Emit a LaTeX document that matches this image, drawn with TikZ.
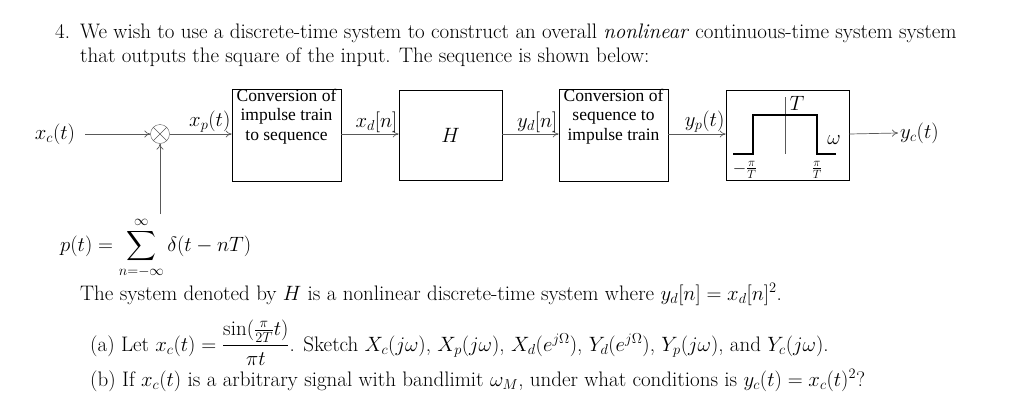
\documentclass[tikz,border=0pt]{standalone}
\usepackage{fontspec}
\usepackage{amsmath}
\newfontfamily\boxfont{Liberation Serif}
\usetikzlibrary{arrows.meta}
\begin{document}
\begin{tikzpicture}[x=1pt,y=-1pt,
  txt/.style={anchor=base west,inner sep=0pt,font=\fontsize{21}{24}\selectfont},
  blk/.style={draw,line width=0.6pt,minimum width=109pt,minimum height=90pt,align=center,inner sep=0pt,font=\boxfont\fontsize{17.5}{19.5}\selectfont},
  sig/.style={gray!70!black,line width=0.7pt,-{To[length=6pt,width=7pt]}},
  lab/.style={black,inner sep=1pt,anchor=south east,font=\fontsize{20}{22}\selectfont}]
\useasboundingbox (0,0) rectangle (1024,410);
\node[txt] (n4) at (55,38) {4.};
\node[txt] (l1) at (80,38) {We wish to use a discrete-time system to construct an overall \emph{nonlinear} continuous-time system system};
\node[txt] (l2) at (80,62) {that outputs the square of the input. The sequence is shown below:};
% blocks
\node[blk] (b1) at (286.5,135) {Conversion of\\impulse train\\to sequence\\[1.2em]};
\node[blk,minimum width=103pt] (b2) at (450.5,135) {\fontsize{20}{22}\selectfont$H$};
\node[blk] (b3) at (613.5,135) {Conversion of\\sequence to\\impulse train\\[1.2em]};
\node[blk,minimum width=123pt] (b4) at (787.5,135) {};
\node[draw,circle,minimum size=19pt,inner sep=0pt,gray!70!black] (m) at (160,134) {};
\draw[gray!70!black] (m.north west) -- (m.south east) (m.north east) -- (m.south west);
\node[inner sep=2pt,font=\fontsize{20}{22}\selectfont] (xc) at (55,134) {$x_c(t)$};
\node[inner sep=2pt,anchor=west,font=\fontsize{20}{22}\selectfont] (yc) at (898,133) {$y_c(t)$};
\coordinate (pt) at (160,214);
\draw[sig] (85,134) -- (m.west);
\draw[sig] (pt) -- (m.south);
\draw[sig] (m.east) -- (b1.west|-m.east) node[lab] {$x_p(t)$};
\draw[sig] (b1.east|-m.east) -- (b2.west|-m.east) node[lab] {$x_d[n]$};
\draw[sig] (b2.east|-m.east) -- (b3.west|-m.east) node[lab] {$y_d[n]$};
\draw[sig] (b3.east|-m.east) -- (b4.west|-m.east) node[lab] {$y_p(t)$};
\draw[sig] (b4.east|-m.east) -- (yc.west);
% filter
\draw[gray!70!black] (785,97) -- (785,154);
\draw[line width=2pt] (733,154) -- (753,154) -- (753,115) -- (817,115) -- (817,154) -- (836,154);
\node[font=\fontsize{20}{22}\selectfont,inner sep=0pt] (T) at (797,103) {$T$};
\node[font=\fontsize{20}{22}\selectfont,inner sep=0pt] (w) at (834,140) {$\omega$};
\node[font=\fontsize{17}{19}\selectfont,inner sep=0pt] (mpt) at (745,170) {$-\frac{\pi}{T}$};
\node[font=\fontsize{17}{19}\selectfont,inner sep=0pt] (ppt) at (817,170) {$\frac{\pi}{T}$};
% p(t)
\node[anchor=west,inner sep=0pt,font=\fontsize{20}{22}\selectfont] (p) at (60,248) {$\displaystyle p(t)=\sum_{n=-\infty}^{\infty}\delta(t-nT)$};
% bottom text
\node[txt] (l3) at (80,300) {The system denoted by $H$ is a nonlinear discrete-time system where $y_d[n]=x_d[n]^2$.};
\node[txt] (l4) at (90,351) {(a) Let $x_c(t)=\dfrac{\sin(\frac{\pi}{2T}t)}{\pi t}$. Sketch $X_c(j\omega)$, $X_p(j\omega)$, $X_d(e^{j\Omega})$, $Y_d(e^{j\Omega})$, $Y_p(j\omega)$, and $Y_c(j\omega)$.};
\node[txt] (l5) at (90,386) {(b) If $x_c(t)$ is a arbitrary signal with bandlimit $\omega_M$, under what conditions is $y_c(t)=x_c(t)^2$?};
\end{tikzpicture}
\end{document}
